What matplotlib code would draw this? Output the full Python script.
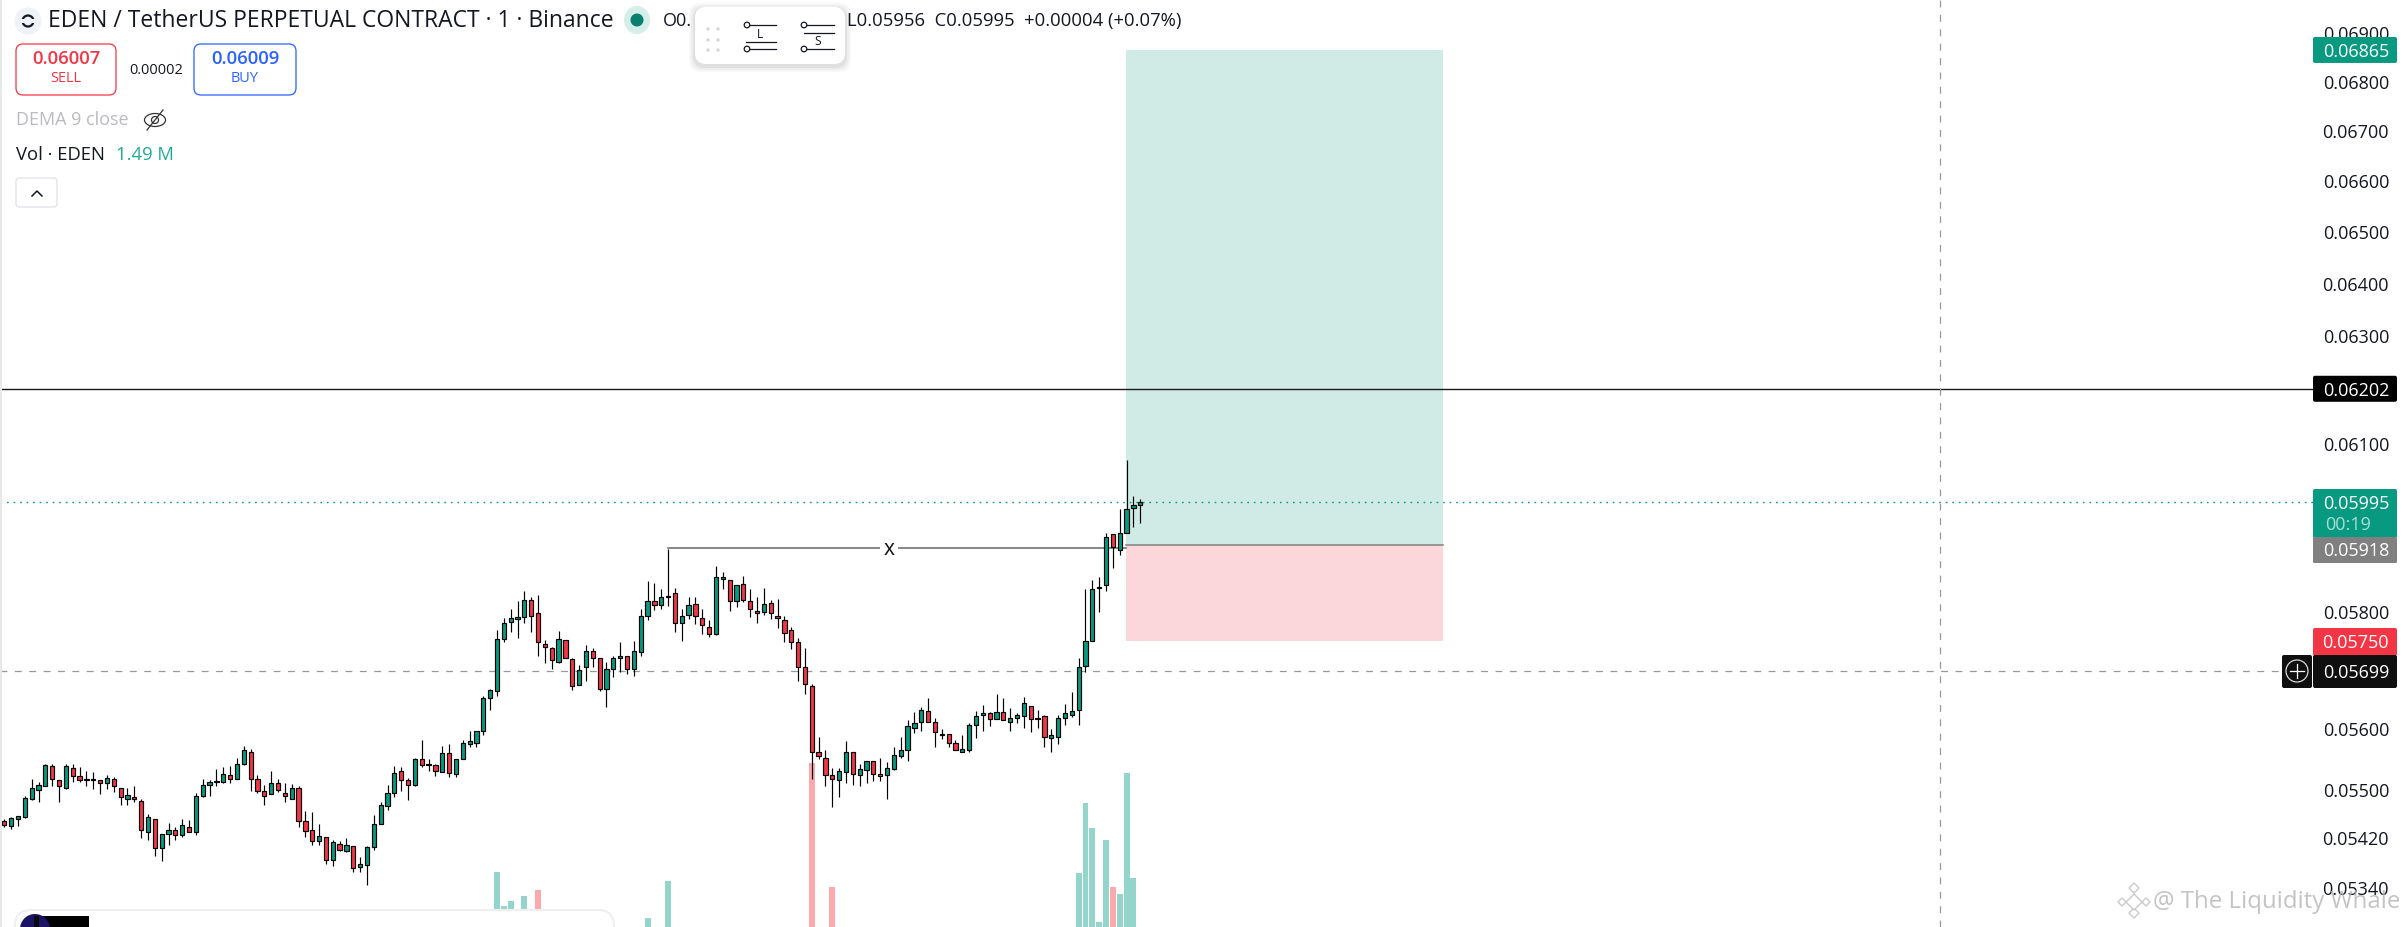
import numpy as np
import matplotlib
matplotlib.use("Agg")
import matplotlib.pyplot as plt
from matplotlib.patches import FancyBboxPatch, Rectangle, Circle, Ellipse, Polygon

plt.rcParams['font.family'] = ['Open Sans', 'DejaVu Sans']

# ---- data: prices in units of 0.00001 ----
highs = [5452,5455,5457,5489,5517,5512,5542,5542,5516,5543,
         5543,5537,5530,5529,5516,5524,5520,5503,5503,5505,
         5484,5460,5451,5427,5445,5438,5451,5450,5495,5517,
         5515,5534,5537,5539,5552,5573,5568,5524,5507,5530,
         5517,5510,5509,5505,5464,5463,5443,5422,5417,5416,
         5421,5408,5390,5408,5458,5479,5507,5539,5537,5519,
         5553,5582,5550,5543,5573,5575,5550,5583,5598,5598,
         5657,5668,5769,5791,5806,5819,5838,5826,5831,5752,
         5740,5767,5752,5722,5710,5743,5738,5722,5714,5724,
         5748,5725,5750,5806,5854,5851,5840,5912,5843,5806,
         5827,5827,5806,5787,5882,5871,5856,5847,5864,5840,
         5826,5842,5822,5824,5794,5775,5755,5738,5676,5588,
         5565,5535,5535,5580,5562,5543,5548,5548,5552,5545,
         5570,5587,5615,5629,5637,5653,5620,5600,5592,5582,
         5590,5610,5631,5641,5629,5659,5653,5636,5627,5654,
         5639,5632,5624,5600,5624,5642,5663,5722,5840,5856,
         5861,5939,5937,5983,6071,6006,6001]
lows = [5438,5435,5440,5454,5483,5479,5505,5506,5480,5501,
        5513,5513,5506,5501,5492,5501,5496,5474,5475,5479,
        5420,5417,5392,5383,5409,5418,5422,5430,5426,5488,
        5490,5506,5510,5510,5517,5540,5498,5494,5475,5492,
        5496,5480,5484,5438,5423,5410,5410,5378,5376,5399,
        5398,5365,5365,5345,5401,5443,5466,5488,5498,5482,
        5506,5537,5530,5523,5529,5521,5521,5550,5570,5571,
        5590,5632,5657,5749,5766,5756,5782,5766,5724,5713,
        5703,5713,5722,5667,5675,5681,5706,5664,5638,5688,
        5698,5694,5691,5725,5787,5804,5806,5811,5766,5751,
        5788,5780,5762,5758,5761,5840,5802,5809,5818,5792,
        5782,5795,5789,5773,5748,5736,5681,5660,5517,5551,
        5506,5472,5488,5511,5508,5505,5511,5514,5514,5485,
        5532,5553,5548,5594,5598,5612,5571,5584,5570,5565,
        5563,5563,5586,5598,5606,5617,5615,5598,5611,5603,
        5596,5602,5571,5563,5576,5607,5621,5608,5697,5750,
        5801,5838,5878,5901,5940,5951,5957]
opens = [5448,5440,5451,5455,5484,5500,5506,5539,5515,5502,
         5535,5522,5517,5517,5515,5510,5517,5503,5484,5487,
         5481,5430,5451,5404,5427,5434,5425,5438,5430,5490,
         5507,5512,5512,5524,5517,5543,5563,5517,5497,5492,
         5510,5495,5484,5503,5448,5434,5416,5422,5385,5411,
         5399,5408,5374,5377,5406,5443,5473,5494,5530,5515,
         5508,5550,5542,5540,5529,5560,5525,5550,5575,5577,
         5597,5653,5664,5753,5784,5789,5792,5822,5798,5746,
         5738,5715,5752,5720,5675,5705,5733,5722,5669,5702,
         5721,5725,5702,5731,5794,5819,5812,5828,5833,5782,
         5796,5815,5791,5775,5762,5860,5856,5820,5849,5819,
         5803,5801,5817,5794,5787,5769,5748,5705,5673,5563,
         5553,5524,5515,5529,5562,5524,5532,5548,5525,5524,
         5534,5555,5565,5602,5612,5631,5612,5593,5592,5578,
         5563,5565,5608,5624,5627,5617,5629,5612,5619,5622,
         5639,5617,5622,5585,5588,5620,5625,5632,5707,5750,
         5842,5847,5937,5910,5940,5985,5989]
closes = [5441,5453,5456,5486,5502,5507,5540,5517,5505,5539,
          5523,5516,5516,5515,5510,5519,5505,5487,5491,5484,
          5434,5455,5404,5427,5434,5425,5441,5430,5490,5507,
          5513,5514,5525,5517,5543,5565,5517,5497,5490,5510,
          5499,5489,5502,5448,5432,5416,5424,5385,5414,5401,
          5409,5372,5378,5406,5443,5474,5494,5527,5515,5507,
          5550,5540,5541,5530,5560,5527,5550,5578,5580,5597,
          5653,5666,5753,5782,5791,5792,5822,5794,5748,5740,
          5717,5753,5722,5673,5700,5733,5721,5669,5702,5722,
          5725,5702,5733,5794,5819,5812,5827,5829,5782,5794,
          5812,5794,5778,5762,5861,5861,5819,5847,5822,5805,
          5799,5815,5798,5791,5765,5748,5705,5676,5563,5555,
          5524,5517,5530,5563,5525,5534,5548,5525,5524,5535,
          5558,5565,5605,5610,5632,5612,5595,5592,5578,5565,
          5568,5607,5622,5627,5617,5629,5615,5619,5625,5644,
          5617,5620,5588,5590,5619,5627,5631,5705,5750,5840,
          5845,5932,5914,5940,5983,5990,5995]

volume_bars = [72,73,74,76,78,94,97,118,121,157,158,159,160,161,162,163,164,165]
volume_values = [5.5,2.1,2.6,3.1,3.7,0.9,4.6,16.4,4.0,5.4,12.4,9.9,0.5,8.7,4.0,3.3,15.4,4.9]

tick_prices = [0.069,0.068,0.067,0.066,0.065,0.064,0.063,0.061,0.058,0.056,0.055,0.0542,0.0534]

level_price = 0.06202
last_price = 0.05995
entry_price = 0.05918
stop_price = 0.05750
target_price = 0.06865
cross_price = 0.05699
x_line_price = 0.05913
x_line_start = 97

UP = '#089981'
DOWN = '#F23645'
W, H = 2404, 927
PX = 0.72

o = np.array(opens) / 1e5
c = np.array(closes) / 1e5
h = np.array(highs) / 1e5
l = np.array(lows) / 1e5
idx = np.arange(len(o))

fig = plt.figure(figsize=(W / 100, H / 100), dpi=100, facecolor='white')

# volume pane
vax = fig.add_axes([0, 0, 1, 1], zorder=0)
x0, dx = 4.3, 6.843
xlim = (-x0 / dx, (W - x0) / dx)
vax.set_xlim(xlim)
vax.set_ylim(0, 92.7)
vax.axis('off')
vi = np.array(volume_bars)
vc = ['#93D4CB' if c[i] >= o[i] else '#FBA9AC' for i in vi]
vax.bar(vi, volume_values, width=0.87, color=vc, linewidth=0)

# price pane
ax = fig.add_axes([0, 0, 1, 1], zorder=1)
ax.patch.set_visible(False)
ax.set_yscale('log')
ax.set_xlim(xlim)
ax.set_ylim(0.069 * np.exp(-894 / 3336), 0.069 * np.exp(33 / 3336))
ax.axis('off')

# position box
pos_left, pos_right = 163.95, 210.2
ax.add_patch(Rectangle((pos_left, entry_price), pos_right - pos_left, target_price - entry_price,
                       fc='#D0EBE6', ec='none', zorder=1))
ax.add_patch(Rectangle((pos_left, stop_price), pos_right - pos_left, entry_price - stop_price,
                       fc='#FBD7DB', ec='none', zorder=1))
ax.plot([pos_left, pos_right], [entry_price, entry_price], color='#808080', lw=1.1, zorder=2)

yt = ax.get_yaxis_transform()
xt = ax.get_xaxis_transform()
ax.plot([0, 2313 / W], [level_price] * 2, transform=yt, color='#1A1A1A', lw=1.0, zorder=2)
ax.plot([0, 2313 / W], [last_price] * 2, transform=yt, color='#089981', lw=1.0,
        ls=(0, (1.2, 3.5)), zorder=2)
ax.plot([0, 2282 / W], [cross_price] * 2, transform=yt, color='#9598A1', lw=0.9,
        ls=(0, (5.5, 6)), zorder=2)
ax.plot([282.9, 282.9], [0, 1], transform=xt, color='#9598A1', lw=0.9, ls=(0, (5.5, 6)), zorder=2)

# x line
x_end = 163.9
ax.plot([x_line_start, x_end], [x_line_price] * 2, color='#666666', lw=1.1, zorder=3)
ax.text(129.3, x_line_price * 0.9996, 'x', ha='center', va='center', fontsize=21 * PX, color='#111111',
        bbox=dict(fc='white', ec='none', pad=2.5), zorder=3)

# candles
ax.vlines(idx, l, h, color='black', lw=0.85, zorder=4)
tops = np.maximum(o, c)
bots = np.minimum(o, c)
bots_d = np.where(tops - bots < 0.00002, tops - 0.00002, bots)
cols = [UP if c[i] >= o[i] else DOWN for i in idx]
ax.bar(idx, tops - bots_d, bottom=bots_d, width=0.62, color=cols, edgecolor='black', linewidth=0.85, zorder=5)

# ---- chrome ----
ui = fig.add_axes([0, 0, 1, 1], zorder=2)
ui.patch.set_visible(False)
ui.set_xlim(0, W)
ui.set_ylim(H, 0)
ui.axis('off')

def py(p):
    return H - ax.transData.transform((0, p))[1]

def rbox(x0_, y0_, x1_, y1_, r=3, fc='white', ec='none', lw=1, z=5, alpha=None):
    ui.add_patch(FancyBboxPatch((x0_ + r, y0_ + r), x1_ - x0_ - 2 * r, y1_ - y0_ - 2 * r,
                                boxstyle=f'round,pad={r},rounding_size={r}', fc=fc, ec=ec, lw=lw,
                                zorder=z, alpha=alpha, mutation_aspect=1))

def t(x, y, s, size, color='#131722', ha='left', va='center', z=8, **kw):
    ui.text(x, y + 2, s, fontsize=size * PX, color=color, ha=ha, va=va, zorder=z, **kw)

ui.add_patch(Rectangle((0, 0), 2, H, fc='#E8E8E8', ec='none', zorder=1))

# tick labels
for p in tick_prices:
    t(2389, py(p), f'{p:.5f}', 18, ha='right', z=3)

# bottom panel overlay
rbox(15, 910, 614, 960, r=16, fc='white', ec='#EFEFEF', lw=1.5, z=4)
ui.add_patch(Rectangle((27, 916), 62, 12, fc='black', ec='none', zorder=5))
ui.add_patch(Circle((35, 929), 15, fc='#1B1464', ec='none', zorder=5, clip_on=True))
ui.add_patch(Rectangle((34, 916), 5, 12, fc='#0A0A0A', ec='none', zorder=6))

# price labels
def price_label(p, txt, fc):
    yc = py(p)
    rbox(2313, yc - 13, 2397, yc + 13, r=2, fc=fc)
    t(2389, yc, txt, 18, color='white', ha='right')

price_label(target_price, '0.06865', '#089981')
price_label(level_price, '0.06202', '#000000')
rbox(2313, 489, 2397, 538, r=2, fc='#089981')
t(2389, py(last_price), '0.05995', 18, color='white', ha='right')
t(2389 - 64, py(last_price) + 21, '00:19', 18, color='#A9DED5')
rbox(2313, 537, 2397, 563, r=1.5, fc='#808080')
t(2389, 549, '0.05918', 18, color='white', ha='right')
rbox(2313, 628, 2397, 656, r=2, fc='#F23645')
t(2389, 641, '0.05750', 18, color='white', ha='right')
rbox(2313, 655, 2397, 688, r=2, fc='#0F0F0F', z=6)
t(2389, py(cross_price), '0.05699', 18, color='white', ha='right')
rbox(2282, 655, 2312, 688, r=2, fc='#0F0F0F', z=6)
ui.add_patch(Ellipse((2297, 671), 22, 22, fc='none', ec='#D8D8D8', lw=0.9, zorder=8))
ui.plot([2297, 2297], [664, 678], color='white', lw=0.9, zorder=8)
ui.plot([2290, 2304], [671, 671], color='white', lw=0.9, zorder=8)

# header
ui.add_patch(Circle((28, 21), 13.5, fc='#EFF2F6', ec='none', zorder=5))
ui.add_patch(Circle((28, 21), 5.5, fc='none', ec='#131722', lw=1.6, zorder=6))
ui.add_patch(Rectangle((20, 19), 16, 4, fc='#EFF2F6', ec='none', zorder=7))
t(48, 19, 'EDEN / TetherUS PERPETUAL CONTRACT · 1 · Binance', 22.9)
ui.add_patch(Ellipse((637, 20), 26, 28, fc='#D5EEEA', ec='none', zorder=5))
ui.add_patch(Circle((637, 20), 6.5, fc='#0A7F6D', ec='none', zorder=6))
t(663, 19, 'O0.', 18)
t(847, 19, 'L0.05956  C0.05995  +0.00004 (+0.07%)', 18.5)

# toolbar popup
for grow, a in ((6, 0.03), (4, 0.04), (2, 0.05)):
    rbox(695 - grow, 7 + 2 - grow, 845 + grow, 64 + 2 + grow, r=12, fc='black', alpha=a, z=6)
rbox(695, 7, 845, 64, r=11, fc='white', z=7)
for dxp in (0, 10):
    for dyp in (0, 11, 21):
        ui.add_patch(Circle((708 + dxp, 29 + dyp), 1.7, fc='#D5D7DC', ec='none', zorder=8))
def seg(xa, ya, xb, yb, lw=0.9):
    ui.plot([xa, xb], [ya, yb], color='#131722', lw=lw, zorder=8)
def node(x, y):
    ui.add_patch(Circle((x, y), 2.8, fc='white', ec='#131722', lw=0.9, zorder=9))
seg(745, 25, 776, 25); node(747, 25)
seg(746, 42, 776, 42); seg(746, 49, 776, 49); node(747, 49)
t(760, 32, 'L', 12, ha='center')
seg(804, 25, 834, 25); node(804, 25)
seg(804, 33, 834, 33); seg(804, 49, 834, 49); node(804, 49)
t(818, 39, 'S', 12, ha='center')

# sell/buy
rbox(16, 44, 116, 95, r=7, fc='white', ec='#F23645', lw=0.9)
t(66, 57, '0.06007', 18.5, color='#F23645', ha='center', fontweight='semibold')
t(66, 76, 'SELL', 14.5, color='#F23645', ha='center')
t(156, 68, '0.00002', 14.5, ha='center')
rbox(194, 44, 296, 95, r=7, fc='white', ec='#2962FF', lw=0.9)
t(245, 57, '0.06009', 18.5, color='#2962FF', ha='center', fontweight='semibold')
t(245, 76, 'BUY', 14.5, color='#2962FF', ha='center')

t(16, 118, 'DEMA 9 close', 18, color='#B9BBC0')
ui.add_patch(Ellipse((155, 120), 21, 13, fc='none', ec='#333333', lw=0.9, zorder=8))
ui.add_patch(Circle((155, 120), 3.5, fc='none', ec='#333333', lw=0.9, zorder=8))
ui.plot([147, 163], [130, 110], color='#333333', lw=0.9, zorder=8)
t(16, 153, 'Vol · EDEN', 18.5)
t(116, 153, '1.49 M', 18.5, color='#22AB94')
rbox(16, 178, 57, 207, r=3, fc='white', ec='#DFE1E6', lw=0.9)
ui.plot([32, 37, 42], [196, 191, 196], color='#131722', lw=1.1, zorder=8)

# watermark
wm = '#BDBDBD'
for cx, cy, s in ((2134, 888, 5), (2134, 913, 5), (2122, 902, 4), (2146, 902, 4)):
    ui.add_patch(Polygon([(cx - s, cy), (cx, cy - s), (cx + s, cy), (cx, cy + s)], fc='white', ec=wm,
                         lw=1, alpha=0.8, zorder=9))
ui.add_patch(Polygon([(2126, 902), (2134, 894), (2142, 902), (2134, 910)], fc='white', ec=wm,
                     lw=1, alpha=0.8, zorder=9))
t(2153, 900, '@ The Liquidity Whale', 24, color='#B5B5B5', alpha=0.8, z=9)

fig.savefig('out.png', dpi=100, facecolor='white')
